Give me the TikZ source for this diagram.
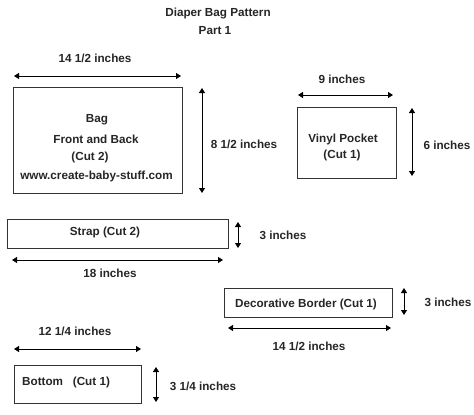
\documentclass[tikz,border=0pt]{standalone}
\usepackage{fontspec}
\setmainfont{Liberation Sans}
\usetikzlibrary{arrows.meta}
\begin{document}
\begin{tikzpicture}[x=1pt,y=-1pt,
  piece/.style={draw=black!80,line width=0.9pt,inner sep=0pt},
  dim/.style={line width=0.9pt,{Triangle[length=5pt,width=6pt]}-{Triangle[length=5pt,width=6pt]}},
  lbl/.style={font=\fontsize{11.7}{14}\selectfont\bfseries,inner sep=0pt,text=black!85}]
\useasboundingbox[fill=white] (0,0) rectangle (474,415);
% title
\node[lbl] (t1) at (218,14) {Diaper Bag Pattern};
\node[lbl] (t2) at (215,31) {Part 1};
% bag
\node[piece,minimum width=169pt,minimum height=106pt] (bag) at (97.5,140) {};
\node[lbl] (bag1) at (97,120) {Bag};
\node[lbl] (bag2) at (96,139) {Front and Back};
\node[lbl] (bag3) at (90,157) {(Cut 2)};
\node[lbl] (bag4) at (96.5,176) {www.create-baby-stuff.com};
\node[lbl] (bagw) at (95,58) {14 1/2 inches};
\coordinate (bw1) at (14,76); \coordinate (bw2) at (181,76);
\draw[dim] (bw1) -- (bw2);
\coordinate (bh1) at (202,88); \coordinate (bh2) at (202,193);
\draw[dim] (bh1) -- (bh2);
\node[lbl] (bagh) at (244,144) {8 1/2 inches};
% vinyl pocket
\node[piece,minimum width=99pt,minimum height=71pt] (vin) at (346.5,142.5) {};
\node[lbl] (vin1) at (343,139) {Vinyl Pocket};
\node[lbl] (vin2) at (342,155) {(Cut 1)};
\node[lbl] (vinw) at (342,79) {9 inches};
\coordinate (vw1) at (298,95); \coordinate (vw2) at (393,95);
\draw[dim] (vw1) -- (vw2);
\coordinate (vh1) at (412,108); \coordinate (vh2) at (412,176);
\draw[dim] (vh1) -- (vh2);
\node[lbl] (vinh) at (447,145) {6 inches};
% strap
\node[piece,minimum width=221pt,minimum height=29pt] (strap) at (117.5,233.5) {};
\node[lbl] (strap1) at (105,232) {Strap (Cut 2)};
\coordinate (sh1) at (238,222); \coordinate (sh2) at (238,248);
\draw[dim] (sh1) -- (sh2);
\node[lbl] (straph) at (283,235) {3 inches};
\coordinate (sw1) at (12,260); \coordinate (sw2) at (223,260);
\draw[dim] (sw1) -- (sw2);
\node[lbl] (strapw) at (110,273) {18 inches};
% decorative border
\node[piece,minimum width=168pt,minimum height=29pt] (dec) at (308,302.5) {};
\node[lbl] (dec1) at (306,304) {Decorative Border (Cut 1)};
\coordinate (dh1) at (404,288); \coordinate (dh2) at (404,315);
\draw[dim] (dh1) -- (dh2);
\node[lbl] (dech) at (448,302) {3 inches};
\coordinate (dw1) at (228,328); \coordinate (dw2) at (391,328);
\draw[dim] (dw1) -- (dw2);
\node[lbl] (decw) at (309,346) {14 1/2 inches};
% bottom
\node[lbl] (botw) at (75,331) {12 1/4 inches};
\coordinate (ow1) at (14,349); \coordinate (ow2) at (141,349);
\draw[dim] (ow1) -- (ow2);
\node[piece,minimum width=127pt,minimum height=38pt] (bot) at (77.5,384) {};
\node[lbl,anchor=west] (bot1) at (22,382) {Bottom\ \ \ (Cut 1)};
\coordinate (oh1) at (156,367); \coordinate (oh2) at (156,402);
\draw[dim] (oh1) -- (oh2);
\node[lbl] (both) at (203,386) {3 1/4 inches};
\end{tikzpicture}
\end{document}
